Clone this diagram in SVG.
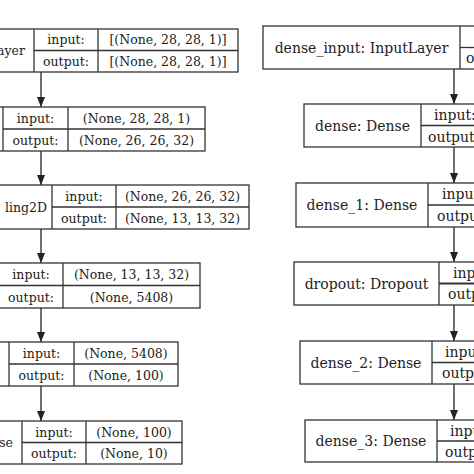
<svg xmlns="http://www.w3.org/2000/svg" width="474" height="474" viewBox="0 0 474 474">
<defs>
<style>
.box{fill:none;stroke:#333;stroke-width:1.3}
.ln{stroke:#333;stroke-width:1.3}
.t{font-family:"DejaVu Serif","Liberation Serif",serif;fill:#222}
.l{font-size:12.5px}
.r{font-size:14px}
.c{text-anchor:middle}
.e{text-anchor:end}
.edge{stroke:#222;stroke-width:1.3;fill:none;marker-end:url(#ah)}
</style>
<marker id="ah" markerUnits="userSpaceOnUse" markerWidth="10" markerHeight="8" refX="10" refY="4" orient="auto">
<path d="M0,0 L10,4 L0,8 z" fill="#222"/>
</marker>
</defs>
<rect width="474" height="474" fill="#fff"/>

<g id="edges">
<line class="edge" x1="41" y1="72" x2="41" y2="107"/>
<line class="edge" x1="41" y1="151" x2="41" y2="185"/>
<line class="edge" x1="41" y1="229" x2="41" y2="263"/>
<line class="edge" x1="41" y1="308" x2="41" y2="342"/>
<line class="edge" x1="41" y1="386" x2="41" y2="421"/>
<line class="edge" x1="454" y1="69" x2="454" y2="104"/>
<line class="edge" x1="454" y1="147" x2="454" y2="183"/>
<line class="edge" x1="454" y1="227" x2="454" y2="262"/>
<line class="edge" x1="454" y1="305" x2="454" y2="341"/>
<line class="edge" x1="454" y1="384" x2="454" y2="420"/>
</g>

<g id="n1">
<rect class="box" x="-5" y="29" width="243" height="43"/>
<line class="ln" x1="34" y1="29" x2="34" y2="72"/>
<line class="ln" x1="98" y1="29" x2="98" y2="72"/>
<line class="ln" x1="34" y1="50.5" x2="238" y2="50.5"/>
<text class="t l e" x="25" y="55">ayer</text>
<text class="t l c" x="66" y="44">input:</text>
<text class="t l c" x="66" y="65.5">output:</text>
<text class="t l c" x="168" y="44">[(None, 28, 28, 1)]</text>
<text class="t l c" x="168" y="65.5">[(None, 28, 28, 1)]</text>
</g>

<g id="n2">
<rect class="box" x="-5" y="107" width="210" height="44"/>
<line class="ln" x1="3" y1="107" x2="3" y2="151"/>
<line class="ln" x1="68" y1="107" x2="68" y2="151"/>
<line class="ln" x1="3" y1="129" x2="205" y2="129"/>
<text class="t l c" x="35.5" y="122.5">input:</text>
<text class="t l c" x="35.5" y="144.5">output:</text>
<text class="t l c" x="136.5" y="122.5">(None, 28, 28, 1)</text>
<text class="t l c" x="136.5" y="144.5">(None, 26, 26, 32)</text>
</g>

<g id="n3">
<rect class="box" x="-5" y="185" width="254" height="44"/>
<line class="ln" x1="52" y1="185" x2="52" y2="229"/>
<line class="ln" x1="116" y1="185" x2="116" y2="229"/>
<line class="ln" x1="52" y1="207" x2="249" y2="207"/>
<text class="t l e" x="47" y="211.5">ling2D</text>
<text class="t l c" x="84" y="200.5">input:</text>
<text class="t l c" x="84" y="222.5">output:</text>
<text class="t l c" x="182.5" y="200.5">(None, 26, 26, 32)</text>
<text class="t l c" x="182.5" y="222.5">(None, 13, 13, 32)</text>
</g>

<g id="n4">
<rect class="box" x="-5" y="263" width="205" height="45"/>
<line class="ln" x1="63" y1="263" x2="63" y2="308"/>
<line class="ln" x1="-5" y1="285.5" x2="200" y2="285.5"/>
<text class="t l c" x="31" y="279">input:</text>
<text class="t l c" x="31" y="301.5">output:</text>
<text class="t l c" x="131.5" y="279">(None, 13, 13, 32)</text>
<text class="t l c" x="131.5" y="301.5">(None, 5408)</text>
</g>

<g id="n5">
<rect class="box" x="-5" y="342" width="183" height="44"/>
<line class="ln" x1="9" y1="342" x2="9" y2="386"/>
<line class="ln" x1="74" y1="342" x2="74" y2="386"/>
<line class="ln" x1="9" y1="364" x2="178" y2="364"/>
<text class="t l c" x="41.5" y="357.5">input:</text>
<text class="t l c" x="41.5" y="379.5">output:</text>
<text class="t l c" x="126" y="357.5">(None, 5408)</text>
<text class="t l c" x="126" y="379.5">(None, 100)</text>
</g>

<g id="n6">
<rect class="box" x="-5" y="421" width="187" height="43"/>
<line class="ln" x1="22" y1="421" x2="22" y2="464"/>
<line class="ln" x1="86" y1="421" x2="86" y2="464"/>
<line class="ln" x1="22" y1="442.5" x2="182" y2="442.5"/>
<text class="t l e" x="13" y="447">se</text>
<text class="t l c" x="54" y="436.5">input:</text>
<text class="t l c" x="54" y="458">output:</text>
<text class="t l c" x="134" y="436.5">(None, 100)</text>
<text class="t l c" x="134" y="458">(None, 10)</text>
</g>

<g id="r1">
<rect class="box" x="263" y="26" width="220" height="43"/>
<line class="ln" x1="460" y1="26" x2="460" y2="69"/>
<line class="ln" x1="460" y1="47.5" x2="480" y2="47.5"/>
<text class="t r c" x="361.5" y="52.5">dense_input: InputLayer</text>
<text class="t r" x="466" y="63">output:</text>
</g>

<g id="r2">
<rect class="box" x="304" y="104" width="180" height="43"/>
<line class="ln" x1="421" y1="104" x2="421" y2="147"/>
<line class="ln" x1="421" y1="125.5" x2="484" y2="125.5"/>
<text class="t r c" x="362.5" y="130.5">dense: Dense</text>
<text class="t r" x="434" y="120">input:</text>
<text class="t r" x="428" y="141.5">output:</text>
</g>

<g id="r3">
<rect class="box" x="296" y="183" width="188" height="44"/>
<line class="ln" x1="428" y1="183" x2="428" y2="227"/>
<line class="ln" x1="428" y1="205" x2="484" y2="205"/>
<text class="t r c" x="362" y="210">dense_1: Dense</text>
<text class="t r" x="442" y="199">input:</text>
<text class="t r" x="437" y="220.5">output:</text>
</g>

<g id="r4">
<rect class="box" x="294" y="262" width="190" height="43"/>
<line class="ln" x1="439" y1="262" x2="439" y2="305"/>
<line class="ln" x1="439" y1="283.5" x2="484" y2="283.5" style="stroke-width:2"/>
<text class="t r c" x="366.5" y="288.5">dropout: Dropout</text>
<text class="t r" x="453" y="277.5">input:</text>
<text class="t r" x="448" y="299">output:</text>
</g>

<g id="r5">
<rect class="box" x="300" y="341" width="184" height="43"/>
<line class="ln" x1="432" y1="341" x2="432" y2="384"/>
<line class="ln" x1="432" y1="362.5" x2="484" y2="362.5"/>
<text class="t r c" x="366" y="367.5">dense_2: Dense</text>
<text class="t r" x="445" y="356.5">input:</text>
<text class="t r" x="442" y="378">output:</text>
</g>

<g id="r6">
<rect class="box" x="305" y="420" width="179" height="42"/>
<line class="ln" x1="437" y1="420" x2="437" y2="462"/>
<line class="ln" x1="437" y1="441" x2="484" y2="441"/>
<text class="t r c" x="371" y="446">dense_3: Dense</text>
<text class="t r" x="450" y="435.5">input:</text>
<text class="t r" x="445" y="456.5">output:</text>
</g>
</svg>
